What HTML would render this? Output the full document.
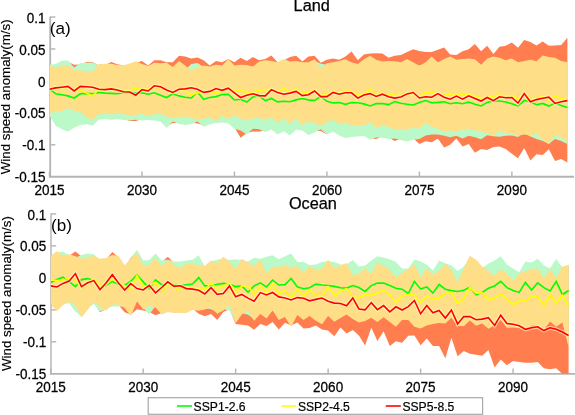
<!DOCTYPE html>
<html><head><meta charset="utf-8"><title>Wind speed anomaly</title>
<style>html,body{margin:0;padding:0;background:#fff;}svg{display:block;}</style>
</head><body>
<svg width="575" height="415" viewBox="0 0 575 415">
<rect width="575" height="415" fill="#fff"/>
<g stroke="#b4b4b4" stroke-width="1.8" fill="none">
<path d="M50.20 16.60 V177.65" stroke="#b4b4b4" stroke-width="1.80"/>
<path d="M49.30 176.75 H574.02"/>
<path d="M50.20 17.00 H55.40" stroke-width="1.4"/>
<path d="M50.20 48.95 H55.40" stroke-width="1.4"/>
<path d="M50.20 80.90 H55.40" stroke-width="1.4"/>
<path d="M50.20 112.85 H55.40" stroke-width="1.4"/>
<path d="M50.20 144.80 H55.40" stroke-width="1.4"/>
<path d="M49.50 176.75 V171.55" stroke-width="1.4"/>
<path d="M141.97 176.75 V171.55" stroke-width="1.4"/>
<path d="M234.45 176.75 V171.55" stroke-width="1.4"/>
<path d="M326.93 176.75 V171.55" stroke-width="1.4"/>
<path d="M419.40 176.75 V171.55" stroke-width="1.4"/>
<path d="M511.88 176.75 V171.55" stroke-width="1.4"/>
</g>
<clipPath id="ca"><rect x="49.5" y="15.0" width="524.0" height="161.8"/></clipPath>
<g clip-path="url(#ca)">
<polygon points="49.5,66.2 55.7,65.5 61.8,62.3 68.0,61.9 74.2,64.8 80.3,64.6 86.5,62.0 92.7,62.3 98.8,65.5 105.0,65.2 111.2,62.0 117.3,64.3 123.5,65.5 129.6,65.1 135.8,62.7 142.0,60.9 148.1,65.5 154.3,60.3 160.5,60.3 166.6,62.2 172.8,62.2 179.0,55.8 185.1,56.4 191.3,58.4 197.5,57.6 203.6,60.3 209.8,65.5 216.0,60.9 222.1,62.2 228.3,58.9 234.4,62.2 240.6,57.8 246.8,60.9 252.9,57.0 259.1,60.3 265.3,58.9 271.4,55.5 277.6,62.2 283.8,60.4 289.9,57.0 296.1,55.8 302.3,61.6 308.4,56.4 314.6,55.8 320.8,62.8 326.9,59.7 333.1,58.4 339.3,59.7 345.4,56.6 351.6,51.6 357.8,60.3 363.9,54.5 370.1,53.5 376.2,53.2 382.4,53.5 388.6,57.8 394.7,55.8 400.9,55.1 407.1,52.0 413.2,49.3 419.4,50.9 425.6,52.0 431.7,52.0 437.9,49.7 444.1,47.4 450.2,54.5 456.4,55.1 462.6,51.2 468.7,49.3 474.9,43.9 481.1,51.2 487.2,45.8 493.4,54.0 499.5,46.8 505.7,45.8 511.9,42.4 518.0,47.8 524.2,40.0 530.4,42.0 536.5,45.4 542.7,41.6 548.9,45.8 555.0,45.4 561.2,44.9 567.4,37.7 567.4,162.4 561.2,159.0 555.0,160.9 548.9,149.3 542.7,155.1 536.5,154.3 530.4,160.5 524.2,148.0 518.0,158.2 511.9,153.8 505.7,149.0 499.5,146.6 493.4,147.0 487.2,149.9 481.1,149.0 474.9,152.8 468.7,144.1 462.6,146.6 456.4,138.4 450.2,144.7 444.1,147.4 437.9,138.4 431.7,142.2 425.6,141.2 419.4,144.1 413.2,138.2 407.1,140.1 400.9,138.8 394.7,140.9 388.6,137.4 382.4,136.3 376.2,138.9 370.1,138.2 363.9,134.3 357.8,134.9 351.6,135.5 345.4,136.6 339.3,134.0 333.1,130.1 326.9,134.5 320.8,131.0 314.6,131.1 308.4,133.6 302.3,129.1 296.1,128.2 289.9,134.0 283.8,129.7 277.6,133.0 271.4,128.0 265.3,130.5 259.1,131.6 252.9,131.6 246.8,133.0 240.6,137.8 234.4,127.2 228.3,122.0 222.1,120.9 216.0,121.5 209.8,122.8 203.6,125.3 197.5,123.4 191.3,122.8 185.1,123.4 179.0,123.0 172.8,123.0 166.6,126.6 160.5,120.1 154.3,118.9 148.1,118.5 142.0,118.9 135.8,121.0 129.6,121.0 123.5,118.5 117.3,117.6 111.2,118.2 105.0,117.6 98.8,118.2 92.7,123.9 86.5,122.8 80.3,123.4 74.2,126.3 68.0,130.1 61.8,127.8 55.7,124.3 49.5,113.7" fill="#ff7d4f"/>
<polygon points="49.5,64.7 55.7,64.0 61.8,60.8 68.0,60.4 74.2,67.4 80.3,63.1 86.5,62.7 92.7,62.8 98.8,65.5 105.0,65.2 111.2,65.2 117.3,66.5 123.5,64.7 129.6,65.1 135.8,62.7 142.0,65.6 148.1,67.6 154.3,64.3 160.5,64.7 166.6,64.3 172.8,68.5 179.0,62.4 185.1,70.0 191.3,64.1 197.5,63.0 203.6,67.0 209.8,68.1 216.0,66.2 222.1,67.0 228.3,60.5 234.4,67.0 240.6,66.2 246.8,66.6 252.9,68.1 259.1,63.1 265.3,61.8 271.4,62.5 277.6,63.7 283.8,60.4 289.9,63.1 296.1,62.4 302.3,63.7 308.4,63.7 314.6,60.8 320.8,63.8 326.9,64.7 333.1,63.7 339.3,62.4 345.4,60.8 351.6,63.7 357.8,65.6 363.9,60.8 370.1,57.3 376.2,61.2 382.4,63.1 388.6,62.4 394.7,62.7 400.9,63.7 407.1,60.4 413.2,63.7 419.4,65.3 425.6,63.7 431.7,57.9 437.9,63.7 444.1,60.4 450.2,57.9 456.4,61.2 462.6,60.4 468.7,59.9 474.9,60.8 481.1,66.2 487.2,59.9 493.4,57.9 499.5,59.3 505.7,61.8 511.9,59.9 518.0,63.7 524.2,62.4 530.4,61.2 536.5,62.7 542.7,57.0 548.9,58.5 555.0,59.3 561.2,62.4 567.4,63.7 567.4,144.1 561.2,140.9 555.0,138.9 548.9,144.1 542.7,140.9 536.5,138.9 530.4,136.4 524.2,133.0 518.0,137.0 511.9,135.5 505.7,135.7 499.5,136.7 493.4,136.2 487.2,135.3 481.1,139.3 474.9,137.2 468.7,135.7 462.6,138.6 456.4,135.7 450.2,137.2 444.1,135.8 437.9,134.5 431.7,134.5 425.6,135.5 419.4,139.0 413.2,139.7 407.1,141.6 400.9,140.3 394.7,138.4 388.6,138.9 382.4,137.8 376.2,137.4 370.1,139.7 363.9,135.8 357.8,136.4 351.6,137.0 345.4,138.1 339.3,135.5 333.1,131.6 326.9,134.5 320.8,129.3 314.6,132.6 308.4,135.1 302.3,130.6 296.1,129.7 289.9,135.5 283.8,131.2 277.6,134.5 271.4,129.5 265.3,132.0 259.1,129.3 252.9,128.7 246.8,134.5 240.6,130.6 234.4,128.7 228.3,123.5 222.1,122.4 216.0,123.0 209.8,124.3 203.6,126.8 197.5,121.5 191.3,124.3 185.1,124.9 179.0,123.9 172.8,121.6 166.6,128.1 160.5,121.6 154.3,120.4 148.1,120.0 142.0,120.4 135.8,119.7 129.6,120.4 123.5,120.0 117.3,119.1 111.2,119.7 105.0,119.1 98.8,119.7 92.7,125.4 86.5,124.3 80.3,124.9 74.2,127.8 68.0,131.6 61.8,129.3 55.7,125.8 49.5,115.2" fill="#bbf9c8"/>
<polygon points="49.5,65.6 55.7,67.4 61.8,65.8 68.0,65.0 74.2,69.9 80.3,70.5 86.5,70.9 92.7,71.1 98.8,64.0 105.0,63.7 111.2,63.7 117.3,65.0 123.5,65.6 129.6,63.6 135.8,61.2 142.0,64.1 148.1,66.1 154.3,62.8 160.5,63.2 166.6,62.8 172.8,67.0 179.0,60.9 185.1,65.5 191.3,70.9 197.5,66.8 203.6,65.5 209.8,66.6 216.0,64.7 222.1,65.5 228.3,59.0 234.4,65.5 240.6,64.7 246.8,65.1 252.9,66.6 259.1,61.6 265.3,60.3 271.4,61.0 277.6,62.2 283.8,58.9 289.9,61.6 296.1,60.9 302.3,62.2 308.4,62.2 314.6,59.3 320.8,68.5 326.9,63.2 333.1,62.2 339.3,60.9 345.4,59.3 351.6,62.2 357.8,64.1 363.9,59.3 370.1,55.8 376.2,59.7 382.4,61.6 388.6,60.9 394.7,61.2 400.9,62.2 407.1,58.9 413.2,62.2 419.4,66.1 425.6,62.2 431.7,56.4 437.9,62.2 444.1,58.9 450.2,56.4 456.4,59.7 462.6,58.9 468.7,58.4 474.9,59.3 481.1,64.7 487.2,58.4 493.4,56.4 499.5,57.8 505.7,60.3 511.9,58.4 518.0,62.2 524.2,60.9 530.4,59.7 536.5,61.2 542.7,55.5 548.9,57.0 555.0,57.8 561.2,60.9 567.4,62.2 567.4,142.2 561.2,137.0 555.0,135.5 548.9,144.1 542.7,139.7 536.5,133.2 530.4,135.5 524.2,134.5 518.0,135.5 511.9,133.5 505.7,133.0 499.5,130.4 493.4,135.4 487.2,133.6 481.1,131.0 474.9,130.4 468.7,128.9 462.6,129.3 456.4,132.0 450.2,130.6 444.1,132.0 437.9,128.7 431.7,126.8 425.6,122.9 419.4,128.7 413.2,127.4 407.1,129.7 400.9,128.7 394.7,129.3 388.6,126.8 382.4,125.4 376.2,127.8 370.1,122.0 363.9,125.8 357.8,124.9 351.6,125.8 345.4,122.5 339.3,123.9 333.1,119.7 326.9,122.0 320.8,125.8 314.6,122.9 308.4,121.0 302.3,124.9 296.1,118.1 289.9,123.9 283.8,118.1 277.6,122.9 271.4,117.2 265.3,119.7 259.1,117.7 252.9,118.5 246.8,120.0 240.6,118.5 234.4,115.2 228.3,119.1 222.1,115.8 216.0,121.0 209.8,117.7 203.6,118.5 197.5,119.7 191.3,118.1 185.1,116.2 179.0,117.2 172.8,118.5 166.6,116.2 160.5,113.9 154.3,114.3 148.1,115.8 142.0,113.9 135.8,114.7 129.6,115.8 123.5,113.9 117.3,113.3 111.2,114.3 105.0,113.9 98.8,114.3 92.7,120.0 86.5,117.2 80.3,112.0 74.2,110.8 68.0,108.1 61.8,111.4 55.7,110.4 49.5,114.3" fill="#fede86"/>
<polyline points="49.5,88.9 55.7,93.8 61.8,94.7 68.0,95.9 74.2,98.0 80.3,93.8 86.5,93.4 92.7,93.8 98.8,92.4 105.0,93.1 111.2,93.4 117.3,93.8 123.5,92.8 129.6,92.4 135.8,93.1 142.0,92.8 148.1,94.2 154.3,92.8 160.5,95.2 166.6,97.5 172.8,93.8 179.0,95.9 185.1,97.3 191.3,98.0 197.5,91.9 203.6,99.3 209.8,97.5 216.0,96.6 222.1,94.5 228.3,94.2 234.4,100.0 240.6,99.3 246.8,102.1 252.9,97.0 259.1,95.9 265.3,100.7 271.4,98.5 277.6,101.9 283.8,101.3 289.9,101.7 296.1,99.9 302.3,98.5 308.4,99.9 314.6,100.5 320.8,96.4 326.9,101.3 333.1,102.9 339.3,102.6 345.4,104.3 351.6,102.6 357.8,102.8 363.9,103.9 370.1,106.0 376.2,103.6 382.4,103.5 388.6,104.6 394.7,101.6 400.9,103.3 407.1,104.2 413.2,105.0 419.4,102.5 425.6,100.6 431.7,102.8 437.9,102.4 444.1,101.7 450.2,103.8 456.4,102.8 462.6,103.8 468.7,102.0 474.9,104.2 481.1,105.9 487.2,102.4 493.4,101.0 499.5,101.0 505.7,102.0 511.9,103.8 518.0,105.9 524.2,100.3 530.4,101.7 536.5,104.7 542.7,103.4 548.9,106.1 555.0,103.1 561.2,105.6 567.4,107.5" fill="none" stroke="#00ff00" stroke-width="1.60" stroke-linejoin="miter" stroke-miterlimit="3"/>
<polyline points="49.5,89.3 55.7,88.9 61.8,88.6 68.0,87.2 74.2,90.6 80.3,90.0 86.5,93.1 92.7,95.9 98.8,89.2 105.0,88.6 111.2,88.6 117.3,89.6 123.5,90.3 129.6,90.6 135.8,87.8 142.0,89.6 148.1,88.6 154.3,87.2 160.5,88.2 166.6,90.3 172.8,92.4 179.0,90.3 185.1,90.3 191.3,95.2 197.5,92.4 203.6,92.8 209.8,92.4 216.0,93.1 222.1,91.0 228.3,88.9 234.4,90.0 240.6,90.3 246.8,92.4 252.9,93.1 259.1,89.6 265.3,90.0 271.4,88.9 277.6,92.4 283.8,88.2 289.9,92.4 296.1,88.9 302.3,93.4 308.4,91.7 314.6,90.0 320.8,95.6 326.9,94.5 333.1,91.4 339.3,92.4 345.4,90.7 351.6,91.8 357.8,94.6 363.9,93.9 370.1,89.0 376.2,95.0 382.4,93.2 388.6,94.6 394.7,95.3 400.9,95.3 407.1,93.9 413.2,95.0 419.4,96.2 425.6,92.6 431.7,91.7 437.9,95.0 444.1,95.8 450.2,93.6 456.4,95.4 462.6,94.5 468.7,94.0 474.9,96.1 481.1,98.2 487.2,97.2 493.4,96.1 499.5,95.0 505.7,96.4 511.9,95.4 518.0,98.9 524.2,94.7 530.4,97.8 536.5,97.5 542.7,96.8 548.9,100.3 555.0,95.8 561.2,98.2 567.4,100.3" fill="none" stroke="#ffff00" stroke-width="1.60" stroke-linejoin="miter" stroke-miterlimit="3"/>
<polyline opacity="0.6" points="49.5,89.3 55.7,87.9 61.8,87.2 68.0,86.4 74.2,91.0 80.3,86.4 86.5,86.8 92.7,87.2 98.8,89.3 105.0,89.6 111.2,88.9 117.3,90.0 123.5,91.7 129.6,92.0 135.8,95.2 142.0,89.6 148.1,91.0 154.3,85.8 160.5,86.8 166.6,90.0 172.8,92.4 179.0,89.2 185.1,88.9 191.3,87.8 197.5,89.2 203.6,92.4 209.8,91.4 216.0,88.6 222.1,90.3 228.3,88.2 234.4,92.8 240.6,97.5 246.8,95.2 252.9,93.8 259.1,95.6 265.3,95.9 271.4,89.6 277.6,92.4 283.8,94.2 289.9,93.1 296.1,91.4 302.3,95.6 308.4,94.7 314.6,91.0 320.8,96.6 326.9,96.6 333.1,92.4 339.3,94.2 345.4,92.8 351.6,92.8 357.8,98.1 363.9,95.0 370.1,93.6 376.2,96.4 382.4,94.2 388.6,96.7 394.7,98.1 400.9,97.0 407.1,93.9 413.2,92.5 419.4,98.0 425.6,96.8 431.7,97.2 437.9,93.6 444.1,97.2 450.2,99.2 456.4,96.1 462.6,99.2 468.7,95.8 474.9,98.6 481.1,101.0 487.2,97.5 493.4,100.6 499.5,96.8 505.7,97.8 511.9,97.5 518.0,103.1 524.2,93.6 530.4,101.7 536.5,99.6 542.7,98.2 548.9,97.2 555.0,103.4 561.2,101.7 567.4,100.6" fill="none" stroke="#fffbc8" stroke-width="3.90" stroke-linejoin="miter" stroke-miterlimit="3"/>
<polyline points="49.5,89.3 55.7,87.9 61.8,87.2 68.0,86.4 74.2,91.0 80.3,86.4 86.5,86.8 92.7,87.2 98.8,89.3 105.0,89.6 111.2,88.9 117.3,90.0 123.5,91.7 129.6,92.0 135.8,95.2 142.0,89.6 148.1,91.0 154.3,85.8 160.5,86.8 166.6,90.0 172.8,92.4 179.0,89.2 185.1,88.9 191.3,87.8 197.5,89.2 203.6,92.4 209.8,91.4 216.0,88.6 222.1,90.3 228.3,88.2 234.4,92.8 240.6,97.5 246.8,95.2 252.9,93.8 259.1,95.6 265.3,95.9 271.4,89.6 277.6,92.4 283.8,94.2 289.9,93.1 296.1,91.4 302.3,95.6 308.4,94.7 314.6,91.0 320.8,96.6 326.9,96.6 333.1,92.4 339.3,94.2 345.4,92.8 351.6,92.8 357.8,98.1 363.9,95.0 370.1,93.6 376.2,96.4 382.4,94.2 388.6,96.7 394.7,98.1 400.9,97.0 407.1,93.9 413.2,92.5 419.4,98.0 425.6,96.8 431.7,97.2 437.9,93.6 444.1,97.2 450.2,99.2 456.4,96.1 462.6,99.2 468.7,95.8 474.9,98.6 481.1,101.0 487.2,97.5 493.4,100.6 499.5,96.8 505.7,97.8 511.9,97.5 518.0,103.1 524.2,93.6 530.4,101.7 536.5,99.6 542.7,98.2 548.9,97.2 555.0,103.4 561.2,101.7 567.4,100.6" fill="none" stroke="#ff0000" stroke-width="1.60" stroke-linejoin="miter" stroke-miterlimit="3"/>
</g>
<g font-family='"Liberation Sans", Arial, Helvetica, sans-serif' font-size="13.5" fill="#000" stroke="#000" stroke-width="0.25" text-anchor="end">
<text transform="translate(45.50 22.60) scale(1 1.1)">0.1</text>
<text transform="translate(45.50 54.55) scale(1 1.1)">0.05</text>
<text transform="translate(45.50 86.50) scale(1 1.1)">0</text>
<text transform="translate(45.50 118.45) scale(1 1.1)">-0.05</text>
<text transform="translate(45.50 150.40) scale(1 1.1)">-0.1</text>
<text transform="translate(45.50 182.35) scale(1 1.1)">-0.15</text>
</g>
<g font-family='"Liberation Sans", Arial, Helvetica, sans-serif' font-size="13.5" fill="#000" stroke="#000" stroke-width="0.25" text-anchor="middle">
<text transform="translate(49.50 194.95) scale(1 1.08)">2015</text>
<text transform="translate(141.97 194.95) scale(1 1.08)">2030</text>
<text transform="translate(234.45 194.95) scale(1 1.08)">2045</text>
<text transform="translate(326.93 194.95) scale(1 1.08)">2060</text>
<text transform="translate(419.40 194.95) scale(1 1.08)">2075</text>
<text transform="translate(511.88 194.95) scale(1 1.08)">2090</text>
</g>
<text x="311.7" y="11.4" font-family='"Liberation Sans", Arial, Helvetica, sans-serif' font-size="16.3" stroke="#000" stroke-width="0.25" text-anchor="middle">Land</text>
<text x="49.8" y="33.5" font-family='"Liberation Sans", Arial, Helvetica, sans-serif' font-size="17.1">(a)</text>
<text transform="translate(10.10 96.85) rotate(-90)" font-family='"Liberation Sans", Arial, Helvetica, sans-serif' font-size="13.35" stroke="#000" stroke-width="0.15" text-anchor="middle">Wind speed anomaly(m/s)</text>
<g stroke="#b4b4b4" stroke-width="1.8" fill="none">
<path d="M51.00 213.50 V374.70" stroke="#c9c9c9" stroke-width="2.00"/>
<path d="M50.10 373.80 H575.23"/>
<path d="M51.00 213.90 H56.20" stroke-width="1.4"/>
<path d="M51.00 245.88 H56.20" stroke-width="1.4"/>
<path d="M51.00 277.86 H56.20" stroke-width="1.4"/>
<path d="M51.00 309.84 H56.20" stroke-width="1.4"/>
<path d="M51.00 341.82 H56.20" stroke-width="1.4"/>
<path d="M50.70 373.80 V368.60" stroke-width="1.4"/>
<path d="M143.18 373.80 V368.60" stroke-width="1.4"/>
<path d="M235.65 373.80 V368.60" stroke-width="1.4"/>
<path d="M328.12 373.80 V368.60" stroke-width="1.4"/>
<path d="M420.60 373.80 V368.60" stroke-width="1.4"/>
<path d="M513.08 373.80 V368.60" stroke-width="1.4"/>
</g>
<clipPath id="cb"><rect x="50.7" y="211.9" width="524.0" height="161.9"/></clipPath>
<g clip-path="url(#cb)">
<polygon points="50.7,257.5 56.9,252.5 63.0,253.1 69.2,255.8 75.4,251.6 81.5,256.4 87.7,255.0 93.9,255.8 100.0,260.2 106.2,259.6 112.3,252.0 118.5,257.3 124.7,266.7 130.8,257.8 137.0,251.2 143.2,262.1 149.3,261.5 155.5,255.0 161.7,262.1 167.8,256.8 174.0,263.1 180.2,263.1 186.3,262.1 192.5,261.2 198.7,256.7 204.8,267.3 211.0,262.1 217.2,261.2 223.3,258.3 229.5,261.6 235.6,260.8 241.8,260.2 248.0,263.1 254.1,259.3 260.3,260.2 266.5,258.3 272.6,256.7 278.8,260.8 285.0,257.7 291.1,255.0 297.3,263.5 303.5,263.5 309.6,266.6 315.8,266.0 322.0,263.5 328.1,261.2 334.3,263.5 340.5,266.0 346.6,264.5 352.8,261.6 358.9,267.9 365.1,267.0 371.3,262.1 377.4,257.7 383.6,258.9 389.8,260.8 395.9,263.5 402.1,270.0 408.3,270.0 414.4,261.0 420.6,263.0 426.8,266.2 432.9,272.1 439.1,262.0 445.3,264.7 451.4,267.0 457.6,272.4 463.8,267.9 469.9,257.3 476.1,261.2 482.2,267.9 488.4,265.0 494.6,262.1 500.7,257.7 506.9,266.0 513.1,269.9 519.2,273.7 525.4,263.1 531.6,264.1 537.7,260.2 543.9,267.0 550.1,269.9 556.2,260.2 562.4,267.9 568.6,266.0 568.6,374.0 562.4,374.0 556.2,368.2 550.1,369.2 543.9,368.2 537.7,362.1 531.6,362.8 525.4,362.8 519.2,362.1 513.1,360.9 506.9,365.3 500.7,359.5 494.6,367.5 488.4,349.9 482.2,355.7 476.1,354.7 469.9,353.8 463.8,350.9 457.6,356.3 451.4,337.8 445.3,358.2 439.1,346.1 432.9,346.1 426.8,338.4 420.6,345.3 414.4,335.5 408.3,335.8 402.1,342.8 395.9,341.2 389.8,346.1 383.6,331.2 377.4,340.9 371.3,327.4 365.1,345.5 358.9,335.5 352.8,330.1 346.6,333.5 340.5,327.6 334.3,336.2 328.1,330.5 322.0,329.5 315.8,325.6 309.6,328.1 303.5,328.5 297.3,322.4 291.1,325.5 285.0,322.8 278.8,329.5 272.6,321.9 266.5,326.0 260.3,324.0 254.1,329.7 248.0,325.5 241.8,324.7 235.6,324.0 229.5,309.3 223.3,312.0 217.2,320.0 211.0,313.9 204.8,316.2 198.7,313.8 192.5,308.5 186.3,311.4 180.2,311.4 174.0,311.4 167.8,310.5 161.7,313.1 155.5,315.3 149.3,312.0 143.2,310.6 137.0,309.3 130.8,314.6 124.7,312.2 118.5,305.1 112.3,305.0 106.2,308.9 100.0,312.2 93.9,302.4 87.7,308.2 81.5,315.9 75.4,310.2 69.2,301.9 63.0,303.4 56.9,309.7 50.7,304.8" fill="#ff7d4f"/>
<polygon points="50.7,257.5 56.9,252.5 63.0,251.6 69.2,255.8 75.4,257.7 81.5,254.9 87.7,253.5 93.9,254.3 100.0,260.2 106.2,259.6 112.3,256.4 118.5,257.3 124.7,266.7 130.8,258.3 137.0,249.7 143.2,260.6 149.3,260.0 155.5,253.5 161.7,260.6 167.8,259.7 174.0,261.6 180.2,261.6 186.3,260.6 192.5,259.7 198.7,255.2 204.8,267.3 211.0,261.6 217.2,259.7 223.3,258.7 229.5,260.1 235.6,259.3 241.8,260.6 248.0,261.6 254.1,257.8 260.3,258.7 266.5,256.8 272.6,255.2 278.8,259.3 285.0,256.2 291.1,253.5 297.3,262.0 303.5,262.0 309.6,265.1 315.8,264.5 322.0,262.0 328.1,261.2 334.3,262.0 340.5,264.5 346.6,264.5 352.8,260.1 358.9,266.4 365.1,265.5 371.3,260.6 377.4,256.2 383.6,257.4 389.8,259.3 395.9,262.0 402.1,268.5 408.3,268.5 414.4,259.5 420.6,261.5 426.8,264.7 432.9,270.6 439.1,260.5 445.3,263.2 451.4,265.5 457.6,270.9 463.8,266.4 469.9,257.3 476.1,261.2 482.2,268.4 488.4,263.5 494.6,260.6 500.7,256.2 506.9,264.5 513.1,268.4 519.2,272.2 525.4,261.6 531.6,262.6 537.7,258.7 543.9,265.5 550.1,268.4 556.2,258.7 562.4,268.4 568.6,264.5 568.6,345.5 562.4,320.9 556.2,325.3 550.1,320.1 543.9,328.2 537.7,324.3 531.6,323.9 525.4,328.2 519.2,326.6 513.1,325.9 506.9,326.3 500.7,318.5 494.6,323.9 488.4,327.2 482.2,322.0 476.1,324.3 469.9,318.9 463.8,324.7 457.6,324.3 451.4,316.2 445.3,322.0 439.1,321.4 432.9,322.4 426.8,323.9 420.6,326.9 414.4,325.3 408.3,318.5 402.1,318.5 395.9,325.3 389.8,320.5 383.6,315.7 377.4,320.5 371.3,316.2 365.1,319.5 358.9,320.9 352.8,317.6 346.6,313.1 340.5,316.4 334.3,320.3 328.1,314.5 322.0,322.8 315.8,319.3 309.6,314.5 303.5,318.4 297.3,313.5 291.1,325.5 285.0,315.5 278.8,318.5 272.6,309.1 266.5,317.0 260.3,312.6 254.1,319.3 248.0,314.8 241.8,313.1 235.6,321.7 229.5,310.8 223.3,309.1 217.2,312.3 211.0,309.3 204.8,307.9 198.7,309.3 192.5,308.5 186.3,311.4 180.2,311.4 174.0,311.4 167.8,310.5 161.7,313.1 155.5,306.0 149.3,314.6 143.2,307.9 137.0,300.0 130.8,314.6 124.7,306.5 118.5,306.6 112.3,306.5 106.2,308.9 100.0,311.5 93.9,303.9 87.7,308.2 81.5,315.9 75.4,311.7 69.2,303.4 63.0,303.4 56.9,309.7 50.7,302.8" fill="#bbf9c8"/>
<polygon points="50.7,256.0 56.9,251.0 63.0,255.4 69.2,254.3 75.4,256.2 81.5,258.7 87.7,257.4 93.9,255.8 100.0,258.7 106.2,258.1 112.3,254.9 118.5,255.8 124.7,265.2 130.8,259.0 137.0,252.5 143.2,265.8 149.3,265.1 155.5,257.4 161.7,266.4 167.8,259.7 174.0,264.5 180.2,268.4 186.3,263.2 192.5,263.5 198.7,265.6 204.8,265.8 211.0,260.6 217.2,263.2 223.3,256.8 229.5,261.6 235.6,269.3 241.8,258.7 248.0,262.6 254.1,266.4 260.3,260.1 266.5,273.2 272.6,266.4 278.8,267.0 285.0,265.1 291.1,267.8 297.3,265.8 303.5,273.2 309.6,265.8 315.8,270.3 322.0,268.9 328.1,259.7 334.3,267.8 340.5,265.5 346.6,263.0 352.8,275.1 358.9,274.1 365.1,267.8 371.3,274.1 377.4,262.6 383.6,265.8 389.8,270.3 395.9,277.2 402.1,273.0 408.3,269.0 414.4,264.3 420.6,277.3 426.8,268.2 432.9,274.6 439.1,271.0 445.3,263.5 451.4,270.3 457.6,282.4 463.8,268.4 469.9,255.8 476.1,259.7 482.2,266.4 488.4,271.2 494.6,275.8 500.7,269.3 506.9,274.1 513.1,280.9 519.2,273.2 525.4,271.2 531.6,268.9 537.7,268.4 543.9,278.0 550.1,269.3 556.2,278.0 562.4,266.4 568.6,265.1 568.6,347.0 562.4,322.4 556.2,326.8 550.1,321.6 543.9,329.7 537.7,325.8 531.6,325.4 525.4,329.7 519.2,328.1 513.1,327.4 506.9,327.8 500.7,320.0 494.6,325.4 488.4,328.7 482.2,323.5 476.1,325.8 469.9,320.4 463.8,326.2 457.6,325.8 451.4,317.7 445.3,323.5 439.1,322.9 432.9,323.9 426.8,325.4 420.6,328.4 414.4,326.8 408.3,320.0 402.1,320.0 395.9,326.8 389.8,322.0 383.6,317.2 377.4,322.0 371.3,317.7 365.1,321.0 358.9,322.4 352.8,319.1 346.6,314.6 340.5,317.9 334.3,321.8 328.1,316.0 322.0,324.3 315.8,320.8 309.6,316.0 303.5,319.9 297.3,315.0 291.1,327.0 285.0,317.0 278.8,320.0 272.6,310.6 266.5,318.5 260.3,314.1 254.1,320.8 248.0,311.0 241.8,314.6 235.6,323.2 229.5,304.7 223.3,310.6 217.2,313.8 211.0,307.5 204.8,309.4 198.7,310.8 192.5,310.0 186.3,312.9 180.2,312.9 174.0,312.9 167.8,312.0 161.7,314.6 155.5,307.5 149.3,306.0 143.2,309.4 137.0,301.5 130.8,316.1 124.7,308.0 118.5,304.5 112.3,304.5 106.2,310.4 100.0,307.5 93.9,301.8 87.7,309.7 81.5,317.4 75.4,305.2 69.2,301.8 63.0,304.9 56.9,311.2 50.7,304.3" fill="#fede86"/>
<polyline points="50.7,282.4 56.9,279.6 63.0,277.2 69.2,281.7 75.4,286.6 81.5,279.6 87.7,278.6 93.9,280.6 100.0,288.0 106.2,285.2 112.3,281.4 118.5,284.2 124.7,285.5 130.8,281.2 137.0,275.0 143.2,281.9 149.3,288.6 155.5,279.8 161.7,284.7 167.8,284.4 174.0,285.0 180.2,285.8 186.3,284.7 192.5,284.0 198.7,277.6 204.8,285.9 211.0,285.9 217.2,284.2 223.3,283.4 229.5,284.2 235.6,286.6 241.8,285.9 248.0,292.2 254.1,285.9 260.3,282.8 266.5,287.0 272.6,280.0 278.8,285.0 285.0,284.6 291.1,278.5 297.3,286.8 303.5,288.8 309.6,287.8 315.8,284.1 322.0,285.0 328.1,285.5 334.3,286.4 340.5,287.8 346.6,288.1 352.8,285.6 358.9,287.6 365.1,291.4 371.3,285.6 377.4,283.1 383.6,283.1 389.8,285.6 395.9,288.2 402.1,289.2 408.3,293.5 414.4,281.4 420.6,288.9 426.8,286.9 432.9,293.1 439.1,284.5 445.3,289.2 451.4,290.6 457.6,291.5 463.8,290.3 469.9,287.3 476.1,294.8 482.2,292.4 488.4,288.3 494.6,286.0 500.7,281.3 506.9,287.6 513.1,290.5 519.2,292.4 525.4,282.4 531.6,290.1 537.7,282.8 543.9,287.6 550.1,290.9 556.2,281.3 562.4,294.7 568.6,290.5" fill="none" stroke="#00ff00" stroke-width="1.60" stroke-linejoin="miter" stroke-miterlimit="3"/>
<polyline points="50.7,280.0 56.9,280.6 63.0,280.0 69.2,277.8 75.4,280.3 81.5,288.0 87.7,283.8 93.9,278.6 100.0,285.6 106.2,284.5 112.3,279.2 118.5,282.8 124.7,285.6 130.8,289.6 137.0,275.6 143.2,286.1 149.3,285.8 155.5,281.9 161.7,291.0 167.8,284.4 174.0,286.8 180.2,290.0 186.3,287.7 192.5,287.5 198.7,288.4 204.8,289.4 211.0,283.4 217.2,288.4 223.3,285.9 229.5,282.8 235.6,292.2 241.8,285.9 248.0,285.9 254.1,294.0 260.3,285.9 266.5,293.6 272.6,284.4 278.8,294.1 285.0,290.2 291.1,298.0 297.3,288.8 303.5,296.6 309.6,289.9 315.8,294.8 322.0,296.6 328.1,286.8 334.3,295.5 340.5,291.0 346.6,288.6 352.8,296.4 358.9,298.1 365.1,294.2 371.3,295.6 377.4,292.8 383.6,290.4 389.8,294.6 395.9,302.3 402.1,296.0 408.3,294.2 414.4,295.3 420.6,302.7 426.8,295.9 432.9,299.4 439.1,298.0 445.3,293.4 451.4,292.0 457.6,303.6 463.8,298.4 469.9,287.3 476.1,293.1 482.2,292.8 488.4,299.8 494.6,298.1 500.7,294.0 506.9,299.2 513.1,304.2 519.2,301.4 525.4,300.6 531.6,296.8 537.7,296.8 543.9,305.2 550.1,294.7 556.2,303.1 562.4,295.0 568.6,305.6" fill="none" stroke="#ffff00" stroke-width="1.60" stroke-linejoin="miter" stroke-miterlimit="3"/>
<polyline opacity="0.6" points="50.7,285.9 56.9,287.0 63.0,283.4 69.2,281.0 75.4,273.6 81.5,286.6 87.7,282.8 93.9,280.6 100.0,289.8 106.2,282.8 112.3,274.7 118.5,283.1 124.7,290.0 130.8,283.6 137.0,288.6 143.2,290.0 149.3,285.4 155.5,292.8 161.7,287.5 167.8,281.9 174.0,286.4 180.2,285.8 186.3,288.6 192.5,289.1 198.7,290.2 204.8,294.0 211.0,287.6 217.2,294.3 223.3,293.6 229.5,285.9 235.6,296.8 241.8,294.5 248.0,298.1 254.1,301.2 260.3,292.6 266.5,295.0 272.6,292.5 278.8,296.9 285.0,298.0 291.1,299.9 297.3,297.6 303.5,298.3 309.6,300.8 315.8,299.4 322.0,298.0 328.1,301.3 334.3,303.1 340.5,303.5 346.6,305.7 352.8,297.9 358.9,309.0 365.1,309.8 371.3,302.6 377.4,309.6 383.6,305.6 389.8,311.8 395.9,306.8 402.1,310.0 408.3,306.6 414.4,300.5 420.6,313.8 426.8,305.6 432.9,312.7 439.1,310.4 445.3,318.1 451.4,310.0 457.6,323.9 463.8,316.6 469.9,316.6 476.1,319.7 482.2,319.1 488.4,317.7 494.6,325.4 500.7,315.2 506.9,323.5 513.1,324.3 519.2,325.8 525.4,329.3 531.6,327.8 537.7,326.8 543.9,330.6 550.1,327.8 556.2,329.3 562.4,332.0 568.6,335.5" fill="none" stroke="#fffbc8" stroke-width="3.90" stroke-linejoin="miter" stroke-miterlimit="3"/>
<polyline points="50.7,285.9 56.9,287.0 63.0,283.4 69.2,281.0 75.4,273.6 81.5,286.6 87.7,282.8 93.9,280.6 100.0,289.8 106.2,282.8 112.3,274.7 118.5,283.1 124.7,290.0 130.8,283.6 137.0,288.6 143.2,290.0 149.3,285.4 155.5,292.8 161.7,287.5 167.8,281.9 174.0,286.4 180.2,285.8 186.3,288.6 192.5,289.1 198.7,290.2 204.8,294.0 211.0,287.6 217.2,294.3 223.3,293.6 229.5,285.9 235.6,296.8 241.8,294.5 248.0,298.1 254.1,301.2 260.3,292.6 266.5,295.0 272.6,292.5 278.8,296.9 285.0,298.0 291.1,299.9 297.3,297.6 303.5,298.3 309.6,300.8 315.8,299.4 322.0,298.0 328.1,301.3 334.3,303.1 340.5,303.5 346.6,305.7 352.8,297.9 358.9,309.0 365.1,309.8 371.3,302.6 377.4,309.6 383.6,305.6 389.8,311.8 395.9,306.8 402.1,310.0 408.3,306.6 414.4,300.5 420.6,313.8 426.8,305.6 432.9,312.7 439.1,310.4 445.3,318.1 451.4,310.0 457.6,323.9 463.8,316.6 469.9,316.6 476.1,319.7 482.2,319.1 488.4,317.7 494.6,325.4 500.7,315.2 506.9,323.5 513.1,324.3 519.2,325.8 525.4,329.3 531.6,327.8 537.7,326.8 543.9,330.6 550.1,327.8 556.2,329.3 562.4,332.0 568.6,335.5" fill="none" stroke="#ff0000" stroke-width="1.60" stroke-linejoin="miter" stroke-miterlimit="3"/>
</g>
<g font-family='"Liberation Sans", Arial, Helvetica, sans-serif' font-size="13.5" fill="#000" stroke="#000" stroke-width="0.25" text-anchor="end">
<text transform="translate(46.30 219.50) scale(1 1.1)">0.1</text>
<text transform="translate(46.30 251.48) scale(1 1.1)">0.05</text>
<text transform="translate(46.30 283.46) scale(1 1.1)">0</text>
<text transform="translate(46.30 315.44) scale(1 1.1)">-0.05</text>
<text transform="translate(46.30 347.42) scale(1 1.1)">-0.1</text>
<text transform="translate(46.30 379.40) scale(1 1.1)">-0.15</text>
</g>
<g font-family='"Liberation Sans", Arial, Helvetica, sans-serif' font-size="13.5" fill="#000" stroke="#000" stroke-width="0.25" text-anchor="middle">
<text transform="translate(50.70 392.00) scale(1 1.08)">2015</text>
<text transform="translate(143.18 392.00) scale(1 1.08)">2030</text>
<text transform="translate(235.65 392.00) scale(1 1.08)">2045</text>
<text transform="translate(328.12 392.00) scale(1 1.08)">2060</text>
<text transform="translate(420.60 392.00) scale(1 1.08)">2075</text>
<text transform="translate(513.08 392.00) scale(1 1.08)">2090</text>
</g>
<text x="312.9" y="208.5" font-family='"Liberation Sans", Arial, Helvetica, sans-serif' font-size="16.3" stroke="#000" stroke-width="0.25" text-anchor="middle">Ocean</text>
<text x="51.1" y="231.0" font-family='"Liberation Sans", Arial, Helvetica, sans-serif' font-size="17.1">(b)</text>
<text transform="translate(10.80 293.60) rotate(-90)" font-family='"Liberation Sans", Arial, Helvetica, sans-serif' font-size="13.35" stroke="#000" stroke-width="0.15" text-anchor="middle">Wind speed anomaly(m/s)</text>
<rect x="148.2" y="397.7" width="334.4" height="16.6" fill="#fff" stroke="#a9a9a9" stroke-width="1.2"/>
<path d="M177.0 406 h15" stroke="#00ff00" stroke-width="1.6"/>
<text x="193.6" y="410.6" font-family='"Liberation Sans", Arial, Helvetica, sans-serif' font-size="12.15" stroke="#000" stroke-width="0.2">SSP1-2.6</text>
<path d="M281.3 406 h15" stroke="#ffff00" stroke-width="1.6"/>
<text x="297.9" y="410.6" font-family='"Liberation Sans", Arial, Helvetica, sans-serif' font-size="12.15" stroke="#000" stroke-width="0.2">SSP2-4.5</text>
<path d="M385.8 406 h15" stroke="#ff0000" stroke-width="1.6"/>
<text x="402.4" y="410.6" font-family='"Liberation Sans", Arial, Helvetica, sans-serif' font-size="12.15" stroke="#000" stroke-width="0.2">SSP5-8.5</text>
</svg>
</body></html>
